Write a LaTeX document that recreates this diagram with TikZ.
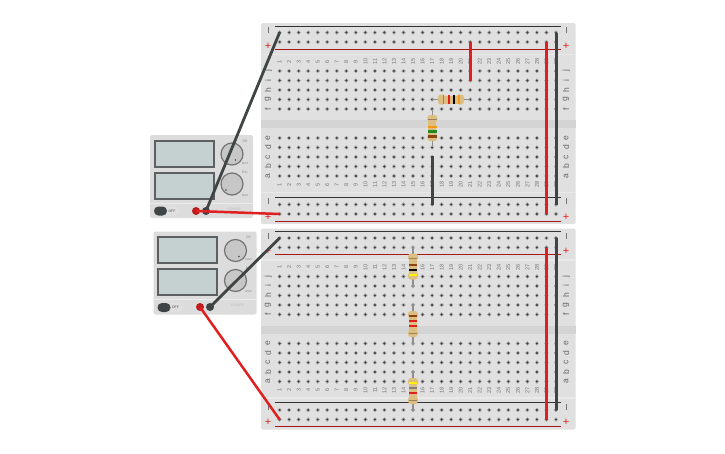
\documentclass[tikz,border=0pt]{standalone}
\usepackage{fontspec}
\setmainfont{Liberation Sans}
\definecolor{brd}{HTML}{DEDEDE}
\definecolor{brl}{HTML}{E0E0E0}
\definecolor{sep}{HTML}{E9E9E9}
\definecolor{gut}{HTML}{D4D4D4}
\definecolor{psu}{HTML}{DCDCDC}
\definecolor{scr}{HTML}{C5D0D0}
\definecolor{dk}{HTML}{3F4444}
\definecolor{rd}{HTML}{E02020}
\definecolor{tan}{HTML}{DCBE82}
\definecolor{lead}{HTML}{8E8E8E}
\definecolor{org}{HTML}{F59A14}
\definecolor{brn}{HTML}{8B4513}
\definecolor{grn}{HTML}{1E8C1E}
\tikzset{
 hole/.style={circle,fill=black!75,draw=black!30,line width=0.5pt,inner sep=0pt,minimum size=3.6pt},
 lab/.style={font=\fontsize{5.5}{5.5}\selectfont,text=black!55,rotate=90,inner sep=0},
 slab/.style={font=\fontsize{8.5}{8.5}\selectfont,text=black!60,rotate=90,inner sep=0},
 plus/.style={font=\fontsize{11}{11}\selectfont,text=rd,inner sep=0},
 minus/.style={fill=black!55,inner sep=0,minimum width=0.9pt,minimum height=6pt},
 bwire/.style={draw=dk,line width=2.8pt},
 rwire/.style={draw=rd,line width=2.5pt},
 railb/.style={draw=black!80,line width=1pt},
 railr/.style={draw=rd!75!black,line width=1pt},
}
\newcommand{\board}[1]{
 \begin{scope}[yshift=-#1pt]
  \fill[brl,rounded corners=1.5pt] (261,23) rectangle (575.5,224);
  \fill[sep] (261,53.5) rectangle (575.5,55);
  \fill[sep] (261,191.5) rectangle (575.5,193);
  \fill[gut] (261,120) rectangle (575.5,128);
  \draw[railb] (275,26) -- (561,26);
  \draw[railr] (275,49) -- (561,49);
  \draw[railb] (275,197) -- (561,197);
  \draw[railr] (275,221) -- (561,221);
  \foreach \s in {268,566}{
   \node[minus] at (\s,30) {};
   \node[plus] at (\s,46) {+};
   \node[minus] at (\s,201) {};
   \node[plus] at (\s,217) {+};
   \foreach \l/\y in {j/71,i/80.5,h/90,g/99.5,f/109,e/138,d/147.5,c/157,b/166.5,a/176}{
    \node[slab] at (\s,\y) {\l};
   }
  }
  \foreach \n in {1,...,30}{
   \pgfmathsetmacro{\xx}{279.6+(\n-1)*9.53}
   \node[lab] at (\xx,61.5) {\n};
   \node[lab] at (\xx,184.5) {\n};
   \foreach \y in {32.5,42,204.5,214,71,80.5,90,99.5,109,138,147.5,157,166.5,176}{
    \node[hole] at (\xx,\y) {};
   }
  }
 \end{scope}
}
\newcommand{\psu}[2]{
 \begin{scope}[xshift=#1pt,yshift=-#2pt]
  \fill[psu,rounded corners=2pt] (150,135) rectangle (253,218);
  \draw[draw=dk!85,line width=2pt,fill=scr] (154.5,140.5) rectangle (213.5,166.5);
  \draw[draw=dk!85,line width=2pt,fill=scr] (154.5,172.5) rectangle (213.5,198.5);
  \draw[draw=black!55,line width=1.2pt,fill=black!22] (232,154) circle (11);
  \draw[draw=black!55,line width=1.2pt,fill=black!22] (232,184) circle (11);
  \fill[black!70] (235.5,160) circle (0.9);
  \fill[black!70] (226,190) circle (0.9);
  \draw[black!8,line width=0.7pt] (150,203) -- (253,203);
  \fill[black!12,rounded corners=4pt] (156,206.5) rectangle (179,215.5);
  \fill[dk,rounded corners=4.4pt] (154,206.5) rectangle (167,215.5);
  \node[font=\fontsize{3.5}{3.5}\selectfont,text=black!70,inner sep=0] at (172,211) {OFF};
  \node[font=\fontsize{3.5}{3.5}\selectfont,text=black!45,inner sep=0] at (245,141) {DK};
  \node[font=\fontsize{3.5}{3.5}\selectfont,text=black!45,inner sep=0] at (245,172) {Bin};
  \node[font=\fontsize{3}{3}\selectfont,text=black!45,inner sep=0] at (245,163) {MAX};
  \node[font=\fontsize{3}{3}\selectfont,text=black!45,inner sep=0] at (245,195) {MAX};
  \node[font=\fontsize{3.5}{3.5}\selectfont,text=black!25,inner sep=0] at (234,209) {POWER};
 \end{scope}
}
\newcommand{\res}[5]{
 \begin{scope}[shift={(#1,#2)},rotate=#3]
  \draw[lead,line width=1.6pt] (-#4,0) -- (#4,0);
  \fill[tan,rounded corners=3pt] (-13,-5) rectangle (-5.5,5);
  \fill[tan,rounded corners=3pt] (5.5,-5) rectangle (13,5);
  \fill[tan] (-8,-4) rectangle (8,4);
  #5
 \end{scope}
}
\newcommand{\bnd}[2]{\fill[#2] (#1-1.4,-4.2) rectangle (#1+1.4,4.2);}
\newcommand{\fnt}[1]{\fill[tan!70!black] (#1-0.5,-4.2) rectangle (#1+0.5,4.2);}
\begin{document}
\begin{tikzpicture}[x=1pt,y=-1pt]
 \useasboundingbox (0,0) rectangle (725,453);
 \fill[white] (0,0) rectangle (725,453);
 \board{0}
 \board{205.5}
 \psu{0}{0}
 \psu{3.5}{96.5}
 \node[circle,fill=rd!85!black,inner sep=0,minimum size=8pt] (r1) at (196,211) {};
 \node[circle,fill=dk,inner sep=0,minimum size=8pt] (k1) at (206,211) {};
 \node[circle,fill=rd!85!black,inner sep=0,minimum size=8pt] (r2) at (200,307) {};
 \node[circle,fill=dk,inner sep=0,minimum size=8pt] (k2) at (210,307) {};
 \coordinate (a1) at (279.6,32.5);
 \coordinate (a2) at (279.6,214);
 \coordinate (a3) at (279.6,238);
 \coordinate (a4) at (279.6,419.5);
 \coordinate (b1) at (470.3,42);
 \coordinate (b2) at (470.3,81);
 \coordinate (c1) at (432.3,156);
 \coordinate (c2) at (432.3,205);
 \coordinate (d1) at (546.7,42);
 \coordinate (d2) at (546.7,214);
 \coordinate (e1) at (556.3,32.5);
 \coordinate (e2) at (556.3,205);
 \coordinate (f1) at (546.7,247.5);
 \coordinate (f2) at (546.7,419.5);
 \coordinate (g1) at (556.3,238);
 \coordinate (g2) at (556.3,410);
 \res{451}{99.5}{0}{19}{\fnt{-8}\bnd{-2}{rd}\bnd{3}{black}\bnd{8}{org}}
 \res{432.3}{128}{-90}{19}{\fnt{-9}\bnd{-1}{org}\bnd{3.7}{grn}\bnd{8.7}{brn}}
 \res{413}{266.5}{-90}{20}{\fnt{-8}\bnd{-1.5}{brn}\bnd{3.5}{black}\bnd{8.5}{yellow}}
 \res{413}{324}{-90}{20}{\bnd{-8}{brn}\bnd{-3}{rd}\bnd{2}{rd}\fnt{9}}
 \res{413}{391}{-90}{20}{\bnd{-8}{yellow}\bnd{-3}{black!50}\bnd{2}{rd}\fnt{9}}
 \draw[rwire] (b1) -- (b2);
 \draw[bwire] (c1) -- (c2);
 \draw[rwire] (d1) -- (d2);
 \draw[bwire] (e1) -- (e2);
 \draw[rwire] (f1) -- (f2);
 \draw[bwire] (g1) -- (g2);
 \draw[bwire] (k1.center) -- (a1);
 \draw[rwire] (r1.center) -- (a2);
 \draw[bwire] (k2.center) -- (a3);
 \draw[rwire] (r2.center) -- (a4);
\end{tikzpicture}
\end{document}
